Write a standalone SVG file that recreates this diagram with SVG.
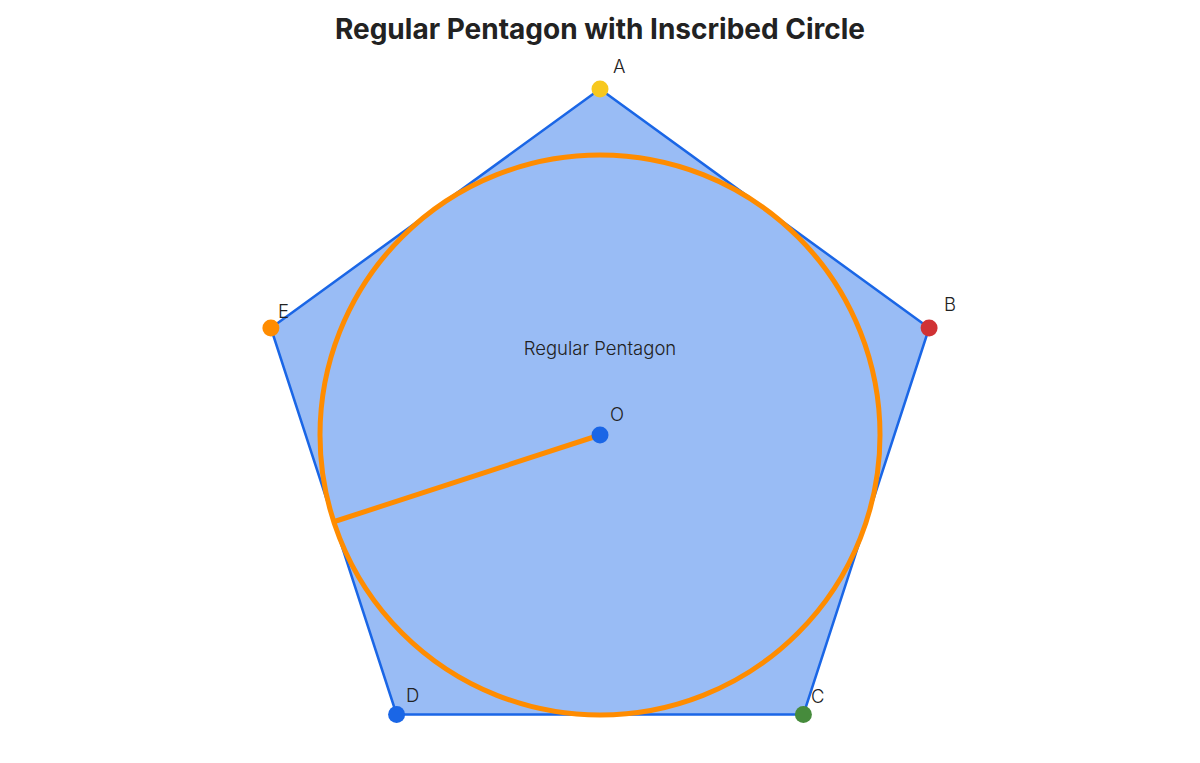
<svg xmlns="http://www.w3.org/2000/svg" width="1200" height="763" viewBox="0 0 1200 763">
<style>
.lbl{font-family:Inter,"Noto Sans","Liberation Sans",sans-serif;font-size:18.5px;fill:#222;font-weight:300}
.title{font-family:Inter,"Noto Sans","Liberation Sans",sans-serif;font-size:28px;font-weight:700;fill:#222}
.orange{fill:none;stroke:#ff8c00;stroke-width:5}
</style>
<rect width="1200" height="763" fill="#ffffff"/>
<text class="title" x="600" y="39" text-anchor="middle">Regular Pentagon with Inscribed Circle</text>
<g id="pentagon">
<polygon points="600,89 929.1,328 803.4,714.5 396.6,714.5 270.9,328" fill="#99bcf5" stroke="#1a66e6" stroke-width="2.5" stroke-linejoin="round"/>
<text class="lbl" x="600" y="355" text-anchor="middle">Regular Pentagon</text>
</g>
<g id="circle">
<circle class="orange" cx="600" cy="435" r="280"/>
</g>
<g id="connectors">
<line class="orange" x1="600" y1="435" x2="334.5" y2="521.5"/>
</g>
<g id="A"><circle cx="600" cy="89" r="8.5" fill="#f7c81e"/><text class="lbl" x="613" y="73">A</text></g>
<g id="B"><circle cx="929.1" cy="328" r="8.5" fill="#d03234"/><text class="lbl" x="944" y="311">B</text></g>
<g id="C"><circle cx="803.4" cy="714.5" r="8.5" fill="#468b3c"/><text class="lbl" x="811" y="703">C</text></g>
<g id="D"><circle cx="396.6" cy="714.5" r="8.5" fill="#1a66e6"/><text class="lbl" x="406" y="702">D</text></g>
<g id="E"><circle cx="270.9" cy="328" r="8.5" fill="#ff8c00"/><text class="lbl" x="278" y="318">E</text></g>
<g id="O"><circle cx="600" cy="435" r="8.5" fill="#1a66e6"/><text class="lbl" x="610" y="421">O</text></g>
</svg>
